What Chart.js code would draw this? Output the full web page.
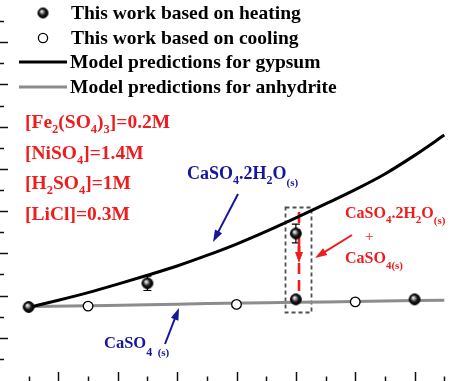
<!DOCTYPE html>
<html><head><meta charset="utf-8">
<script src="https://cdn.jsdelivr.net/npm/chart.js@4"></script>
<style>
html,body{margin:0;padding:0;background:#fff;overflow:hidden;width:474px;height:381px}
#wrap{position:absolute;left:-1px;top:0;width:475px;height:381px}
</style>
</head><body><div id="wrap"><canvas id="c"></canvas></div>
<script>
// ---- data (temperature in °C, values in plot units) ----
const heatingT   = [25, 45, 70, 70, 90];
const heatingY   = [1.73, 2.29, 3.47, 1.91, 1.91];
const heatingErr = [0.05, 0.17, 0.22, 0.07, 0.07];
const coolingT   = [35, 60, 80];
const coolingY   = [1.75, 1.79, 1.85];
const coolingErr = [0.04, 0.04, 0.04];
const gypsumT    = [25, 30, 35, 40, 45, 50, 55, 60, 65, 70, 75, 80, 85, 90, 95];
const gypsumY    = [1.72, 1.89, 2.07, 2.27, 2.48, 2.70, 2.95, 3.22, 3.52, 3.84, 4.17, 4.51, 4.88, 5.32, 5.80];
const anhydriteT = [25, 35, 45, 55, 65, 75, 85, 95];
const anhydriteY = [1.74, 1.76, 1.78, 1.81, 1.83, 1.85, 1.87, 1.89];
const xMajorTicks = [30, 40, 50, 60, 70, 80, 90];
const xMinorTicks = [25, 35, 45, 55, 65, 75, 85, 95];
const yMajorTicks = [1, 2, 3, 4, 5, 6, 7, 8];
const yMinorTicks = [0.5, 1.5, 2.5, 3.5, 4.5, 5.5, 6.5, 7.5, 8.5];
const seriesLabels = ['This work based on heating', 'This work based on cooling',
                      'Model predictions for gypsum', 'Model predictions for anhydrite'];

const SERIF = '"Liberation Serif","Times New Roman",serif';
const RED = '#ee1c1c', BLUE = '#16169a', GREY = '#8c8c8c';

function sphere(r){
  const s = Math.ceil(2*r+3), c = document.createElement('canvas'); c.width = s; c.height = s;
  const g = c.getContext('2d'), cx = s/2, cy = s/2;
  const gr = g.createRadialGradient(cx-1.6, cy-1.9, 0.2, cx, cy, r);
  gr.addColorStop(0, '#ffffff'); gr.addColorStop(0.28, '#a0a0a0');
  gr.addColorStop(0.6, '#1a1a1a'); gr.addColorStop(1, '#000');
  g.fillStyle = gr; g.beginPath(); g.arc(cx, cy, r, 0, Math.PI*2); g.fill();
  g.strokeStyle = '#000'; g.lineWidth = 1; g.stroke();
  return c;
}
const SPH = sphere(5.4);
const SPH_L = sphere(5);

const pts = (xs, ys) => xs.map((x, i) => ({x, y: ys[i]}));

function rich(ctx, x, y, parts, color){
  ctx.fillStyle = color; ctx.textAlign = 'left'; ctx.textBaseline = 'alphabetic';
  let cx = x;
  for (const [t, dy, fs, w] of parts){
    ctx.font = `${w || 'bold'} ${fs}px ${SERIF}`;
    ctx.fillText(t, cx, y + dy);
    cx += ctx.measureText(t).width;
  }
}
function arrow(ctx, x1, y1, x2, y2, color, lw, hl, hw, dash){
  const a = Math.atan2(y2-y1, x2-x1);
  ctx.save();
  ctx.strokeStyle = color; ctx.fillStyle = color; ctx.lineWidth = lw;
  ctx.setLineDash(dash || []);
  ctx.beginPath(); ctx.moveTo(x1, y1);
  ctx.lineTo(x2 - Math.cos(a)*hl*0.6, y2 - Math.sin(a)*hl*0.6); ctx.stroke();
  ctx.setLineDash([]);
  if (hl > 0){
    ctx.beginPath(); ctx.moveTo(x2, y2);
    ctx.lineTo(x2 - Math.cos(a)*hl + Math.sin(a)*hw/2, y2 - Math.sin(a)*hl - Math.cos(a)*hw/2);
    ctx.lineTo(x2 - Math.cos(a)*hl - Math.sin(a)*hw/2, y2 - Math.sin(a)*hl + Math.cos(a)*hw/2);
    ctx.closePath(); ctx.fill();
  }
  ctx.restore();
}

const decor = {
  id: 'decor',
  beforeDatasetsDraw(chart){
    const ctx = chart.ctx, xs = chart.scales.x, ys = chart.scales.y, ca = chart.chartArea;
    ctx.save();
    // inward ticks
    ctx.strokeStyle = '#111'; ctx.lineWidth = 1.5;
    const bot = ca.bottom + 1;
    for (const v of xMajorTicks){ const p = Math.round(xs.getPixelForValue(v))+0.5; ctx.beginPath(); ctx.moveTo(p, bot); ctx.lineTo(p, bot-9); ctx.stroke(); }
    for (const v of xMinorTicks){ const p = Math.round(xs.getPixelForValue(v))+0.5; ctx.beginPath(); ctx.moveTo(p, bot); ctx.lineTo(p, bot-4.5); ctx.stroke(); }
    for (const v of yMajorTicks){ const p = Math.round(ys.getPixelForValue(v))+0.5; ctx.beginPath(); ctx.moveTo(ca.left, p); ctx.lineTo(ca.left+9, p); ctx.stroke(); }
    for (const v of yMinorTicks){ const p = Math.round(ys.getPixelForValue(v))+0.5; ctx.beginPath(); ctx.moveTo(ca.left, p); ctx.lineTo(ca.left+5, p); ctx.stroke(); }
    // error bars
    const bars = (T, Y, E) => T.forEach((t, i) => {
      const px = xs.getPixelForValue(t), y1 = ys.getPixelForValue(Y[i]-E[i]), y2 = ys.getPixelForValue(Y[i]+E[i]);
      ctx.beginPath(); ctx.moveTo(px, y1); ctx.lineTo(px, y2);
      ctx.moveTo(px-4, y1); ctx.lineTo(px+4, y1); ctx.moveTo(px-4, y2); ctx.lineTo(px+4, y2); ctx.stroke();
    });
    ctx.strokeStyle = '#000'; ctx.lineWidth = 1.2;
    bars(heatingT, heatingY, heatingErr); bars(coolingT, coolingY, coolingErr);
    // annotations (page pixel positions)
    ctx.translate(1, 0);
    ctx.strokeStyle = '#505050'; ctx.lineWidth = 1.8; ctx.setLineDash([4, 3]);
    ctx.strokeRect(285.5, 207.5, 26, 105);
    ctx.setLineDash([]);
    arrow(ctx, 299, 212, 299, 297, RED, 2.6, 0, 0, [11, 6]);
    arrow(ctx, 299, 240, 299, 263, RED, 2.6, 11, 8);
    ctx.restore();
  },
  afterDraw(chart){
    const ctx = chart.ctx;
    ctx.save();
    ctx.translate(1, 0);
    // legend
    ctx.drawImage(SPH_L, 43 - SPH_L.width/2, 13 - SPH_L.height/2);
    ctx.beginPath(); ctx.arc(43, 38, 4.6, 0, Math.PI*2); ctx.fillStyle = '#fff'; ctx.fill();
    ctx.strokeStyle = '#000'; ctx.lineWidth = 1.3; ctx.stroke();
    ctx.lineWidth = 3; ctx.strokeStyle = '#000';
    ctx.beginPath(); ctx.moveTo(19, 62); ctx.lineTo(67, 62); ctx.stroke();
    ctx.strokeStyle = GREY;
    ctx.beginPath(); ctx.moveTo(19, 87); ctx.lineTo(67, 87); ctx.stroke();
    ctx.fillStyle = '#000'; ctx.font = `bold 19.5px ${SERIF}`; ctx.textBaseline = 'alphabetic';
    ctx.fillText(seriesLabels[0], 71, 19);
    ctx.fillText(seriesLabels[1], 71, 43.5);
    ctx.fillText(seriesLabels[2], 70, 68);
    ctx.fillText(seriesLabels[3], 70, 93);
    // red conditions
    const F = 19.5, S = 12.5, D = 5;
    rich(ctx, 25, 128, [['[Fe',0,F],['2',D,S],['(SO',0,F],['4',D,S],[')',0,F],['3',D,S],[']=0.2M',0,F]], RED);
    rich(ctx, 25, 158.5, [['[NiSO',0,F],['4',D,S],[']=1.4M',0,F]], RED);
    rich(ctx, 25, 189, [['[H',0,F],['2',D,S],['SO',0,F],['4',D,S],[']=1M',0,F]], RED);
    rich(ctx, 25, 219.5, [['[LiCl]=0.3M',0,F]], RED);
    // blue labels
    rich(ctx, 187, 178.5, [['CaSO',0,18],['4',5,12],['.2H',0,18],['2',5,12],['O',0,18],['(s)',7,11]], BLUE);
    arrow(ctx, 238, 194, 213, 242, BLUE, 2, 12, 8);
    rich(ctx, 104, 348, [['CaSO',0,16.5],['4',8,12],['\u2002(s)',8,11]], BLUE);
    arrow(ctx, 165, 344, 179, 308, BLUE, 2, 12, 8);
    // red phase label
    rich(ctx, 345, 218, [['CaSO',0,16],['4',5,11],['.2H',0,16],['2',5,11],['O',0,16],['(s)',6,11]], RED);
    rich(ctx, 365, 241, [['+',0,15,'normal']], RED);
    rich(ctx, 345, 263, [['CaSO',0,16],['4',6,11],['(s)',6,11]], RED);
    arrow(ctx, 352, 235, 315, 258, RED, 2, 12, 8);
    ctx.restore();
  }
};

new Chart(document.getElementById('c'), {
  type: 'scatter',
  data: { datasets: [
    { label: seriesLabels[0], data: pts(heatingT, heatingY), pointStyle: SPH, pointRadius: 5.4, showLine: false },
    { label: seriesLabels[1], data: pts(coolingT, coolingY), pointStyle: 'circle', pointRadius: 4.8,
      backgroundColor: '#fff', borderColor: '#000', borderWidth: 1.3, showLine: false },
    { label: seriesLabels[2], data: pts(gypsumT, gypsumY), showLine: true, pointRadius: 0,
      borderColor: '#000', borderWidth: 3, cubicInterpolationMode: 'monotone', fill: false },
    { label: seriesLabels[3], data: pts(anhydriteT, anhydriteY), showLine: true, pointRadius: 0,
      borderColor: GREY, borderWidth: 3, cubicInterpolationMode: 'monotone', fill: false }
  ]},
  options: {
    responsive: true, maintainAspectRatio: false, animation: false, devicePixelRatio: 1,
    layout: { autoPadding: false, padding: { left: 0, right: 0, top: 0, bottom: 1 } },
    plugins: { legend: { display: false }, tooltip: { enabled: false } },
    scales: {
      x: { type: 'linear', min: 20, max: 100, display: false },
      y: { type: 'linear', min: 0, max: 9, display: false }
    }
  },
  plugins: [decor]
});
</script>
</body></html>
